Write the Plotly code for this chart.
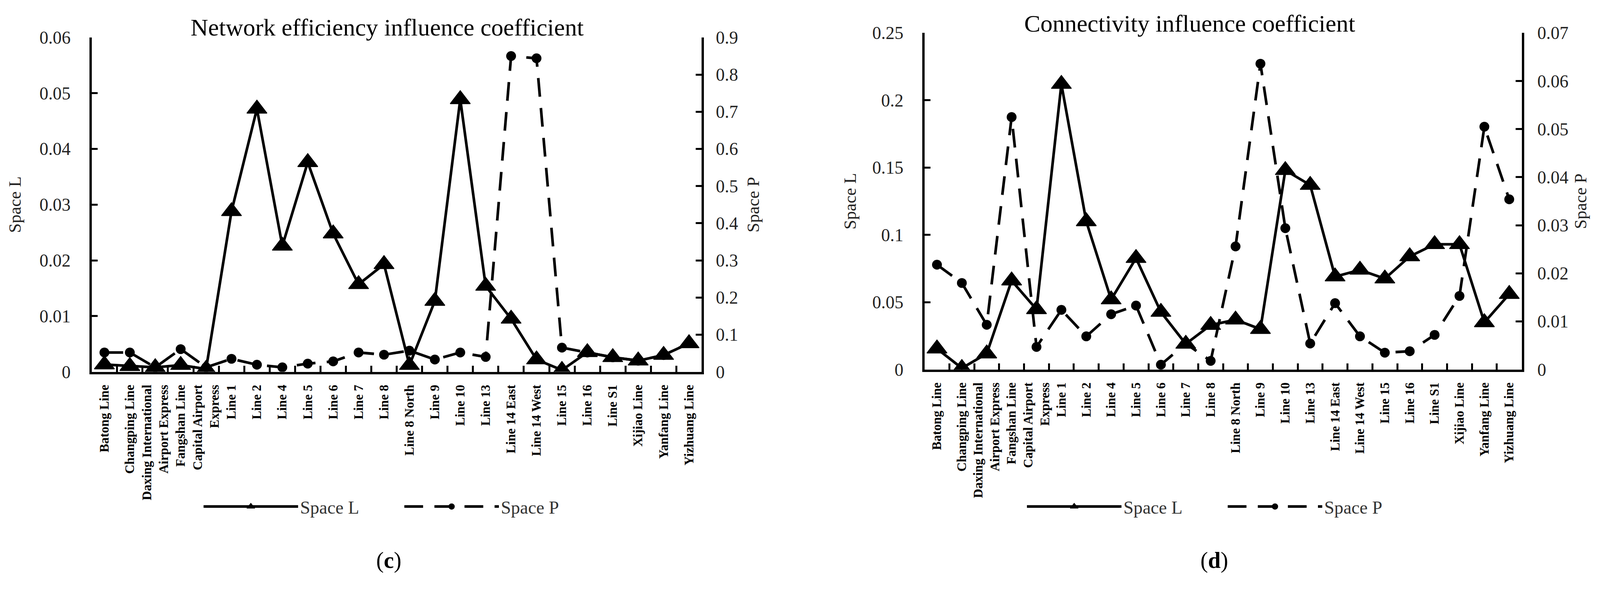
import plotly.graph_objects as go

# Line names on the x axis (two long names wrap onto a second line)
lines = [
    "Batong Line", "Changping Line", "Daxing International<br>Airport Express",
    "Fangshan Line", "Capital Airport<br>Express", "Line 1", "Line 2", "Line 4",
    "Line 5", "Line 6", "Line 7", "Line 8", "Line 8 North", "Line 9", "Line 10",
    "Line 13", "Line 14 East", "Line 14 West", "Line 15", "Line 16", "Line S1",
    "Xijiao Line", "Yanfang Line", "Yizhuang Line",
]

# (c) Network efficiency influence coefficient
eff_space_l = [0.0013, 0.0010, 0.0008, 0.0012, 0.0005, 0.0288, 0.0472, 0.0226,
               0.0376, 0.0248, 0.0157, 0.0193, 0.0012, 0.0127, 0.0489, 0.0154,
               0.0095, 0.0022, 0.0003, 0.0035, 0.0026, 0.0020, 0.0030, 0.0051]
eff_space_p = [0.052, 0.052, 0.012, 0.061, 0.012, 0.035, 0.019, 0.012,
               0.022, 0.028, 0.052, 0.046, 0.057, 0.033, 0.052, 0.040,
               0.850, 0.844, 0.065, 0.052, 0.039, 0.030, 0.045, 0.077]

# (d) Connectivity influence coefficient
conn_space_l = [0.0155, 0.0010, 0.0118, 0.0660, 0.0447, 0.2120, 0.1100, 0.0520,
                0.0827, 0.0427, 0.0190, 0.0330, 0.0370, 0.0300, 0.1480, 0.1370,
                0.0690, 0.0740, 0.0675, 0.0840, 0.0930, 0.0930, 0.0350, 0.0560]
conn_space_p = [0.0218, 0.0180, 0.0093, 0.0525, 0.0047, 0.0124, 0.0069, 0.0115,
                0.0133, 0.0010, 0.0054, 0.0018, 0.0256, 0.0636, 0.0294, 0.0054,
                0.0138, 0.0069, 0.0035, 0.0038, 0.0072, 0.0153, 0.0505, 0.0354]

SERIF = "Liberation Serif, Times New Roman, serif"

# the page came out ~3% larger than asked, so every pixel size below is
# given in reference-picture pixels and shrunk by S
S = 0.97
OFF = 8                      # body margin of the html page
W = int(4236 * S) - 2 * OFF
H = int(1550 * S) - 2 * OFF


def sz(v):
    return round(v * S, 1)


def isz(v):
    return int(round(v * S))


def px_x(px):
    return (px * S - OFF) / W


def px_y(py):
    return 1 - (py * S - OFF) / H


def add_panel(fig, space_l, space_p, xa, ya_l, ya_p, legend_id):
    """Solid triangles on the left axis, dashed dots on the right axis"""
    fig.add_trace(go.Scatter(
        x=lines, y=space_l, name="Space L", mode="lines+markers",
        xaxis=xa, yaxis=ya_l, legend=legend_id,
        line=dict(color="black", width=sz(7)),
        marker=dict(symbol="triangle-up", size=sz(46), color="black",
                    line=dict(color="black", width=2)),
    ))
    fig.add_trace(go.Scatter(
        x=lines, y=space_p, name="Space P", mode="lines+markers",
        xaxis=xa, yaxis=ya_p, legend=legend_id,
        line=dict(color="black", width=sz(7), dash="48px,29px"),
        marker=dict(symbol="circle", size=sz(26), color="black"),
    ))


def create_figure():
    fig = go.Figure()
    add_panel(fig, eff_space_l, eff_space_p, "x", "y", "y2", "legend")
    add_panel(fig, conn_space_l, conn_space_p, "x2", "y3", "y4", "legend2")

    # panel frames in pixels of the reference picture
    c_left, c_right, c_top, c_bottom = 242, 1852, 99, 982
    d_left, d_right, d_top, d_bottom = 2440, 4016, 87, 976

    tick_font = dict(family=SERIF, size=sz(47), color="#222")
    title_font = dict(family=SERIF, size=sz(46), color="#222")
    cat_font = dict(family=SERIF, size=sz(34), color="black", weight="bold")

    def xaxis(left, right, anchor):
        return dict(
            domain=[px_x(left), px_x(right)], anchor=anchor,
            type="category", range=[-0.5, len(lines) - 0.5],
            showline=True, linecolor="black", linewidth=sz(6),
            ticks="inside", tickson="boundaries", ticklen=sz(16),
            tickwidth=sz(5), tickcolor="black", tickangle=-90,
            tickfont=cat_font, ticklabelstandoff=isz(14),
            showgrid=False, zeroline=False, automargin=False,
        )

    def yaxis(top, bottom, rng, dtick, title, side="left", overlay=None,
              anchor=None, standoff=30, label_gap=40):
        ax = dict(
            domain=[px_y(bottom), px_y(top)], range=rng, dtick=dtick,
            side=side, showline=True, linecolor="black", linewidth=sz(6),
            ticks="inside", ticklen=sz(16), tickwidth=sz(5),
            tickcolor="black", tickfont=tick_font,
            ticklabelstandoff=isz(label_gap),
            title=dict(text=title, font=title_font, standoff=isz(standoff)),
            showgrid=False, zeroline=False, automargin=False,
        )
        if overlay:
            ax["overlaying"] = overlay
        if anchor:
            ax["anchor"] = anchor
        return ax

    # long legend lines like the original, marker sits in the middle
    legend_style = dict(
        orientation="h", xanchor="center", yanchor="middle",
        font=dict(family=SERIF, size=sz(48), color="#333"),
        bgcolor="rgba(0,0,0,0)", entrywidth=isz(265), entrywidthmode="pixels",
        itemwidth=isz(250),
    )

    fig.update_layout(
        width=W, height=H,
        margin=dict(l=0, r=0, t=0, b=0),
        plot_bgcolor="white", paper_bgcolor="white",
        font=dict(family=SERIF, color="black"),
        xaxis=xaxis(c_left, c_right, "y"),
        yaxis=yaxis(c_top, c_bottom, [0, 0.06], 0.01, "Space L",
                    anchor="x", standoff=36, label_gap=40),
        yaxis2=yaxis(c_top, c_bottom, [0, 0.9], 0.1, "Space P", side="right",
                     overlay="y", anchor="x", standoff=26, label_gap=22),
        xaxis2=xaxis(d_left, d_right, "y3"),
        yaxis3=yaxis(d_top, d_bottom, [0, 0.25], 0.05, "Space L",
                     anchor="x2", standoff=30, label_gap=40),
        yaxis4=yaxis(d_top, d_bottom, [0, 0.07], 0.01, "Space P", side="right",
                     overlay="y3", anchor="x2", standoff=18, label_gap=26),
        legend=dict(legend_style, x=px_x(1062), y=px_y(1338)),
        legend2=dict(legend_style, x=px_x(3235), y=px_y(1338)),
        annotations=[
            dict(text="Network efficiency influence coefficient",
                 x=px_x(1022), y=px_y(72), xref="paper", yref="paper",
                 showarrow=False, xanchor="center", yanchor="middle",
                 font=dict(family=SERIF, size=sz(64), color="black")),
            dict(text="Connectivity influence coefficient",
                 x=px_x(3140), y=px_y(62), xref="paper", yref="paper",
                 showarrow=False, xanchor="center", yanchor="middle",
                 font=dict(family=SERIF, size=sz(64), color="black")),
            dict(text="(<b>c</b>)", x=px_x(1026), y=px_y(1480),
                 xref="paper", yref="paper", showarrow=False,
                 xanchor="center", yanchor="middle",
                 font=dict(family=SERIF, size=sz(60), color="black")),
            dict(text="(<b>d</b>)", x=px_x(3205), y=px_y(1480),
                 xref="paper", yref="paper", showarrow=False,
                 xanchor="center", yanchor="middle",
                 font=dict(family=SERIF, size=sz(60), color="black")),
        ],
    )
    return fig


if __name__ == "__main__":
    fig = create_figure()
    fig.write_html("out.html")
